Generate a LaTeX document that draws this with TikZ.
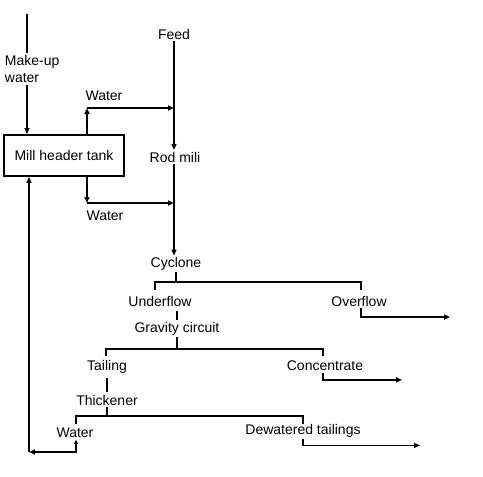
\documentclass[tikz,border=0pt]{standalone}
\usepackage{fontspec}
\setmainfont{Liberation Sans}
\usetikzlibrary{arrows.meta}
\usetikzlibrary{positioning}

\begin{document}
\begin{tikzpicture}[x=1pt,y=-1pt,line width=1.8pt,
	txt/.style={inner sep=1pt,font=\fontsize{14}{17}\selectfont},
	flow/.style={-{Triangle[length=6pt,width=5pt]}},
	brk/.style={line width=1.4pt,shorten <=3pt,shorten >=1pt}]

	\useasboundingbox (0,0) rectangle (483,477);

	%Tank
	\node[txt, draw, minimum width=120pt, minimum height=41pt] (tank) at (64,155.5) {Mill header tank};

	%Make-up water
	\node[txt, align=left, anchor=west] (makeup) at (3,69) {Make-up\\water};
	\coordinate (mtop) at (27,14);
	\draw (mtop) -- (mtop |- makeup.north);
	\draw[flow] (mtop |- makeup.south) -- (mtop |- tank.north);

	%Feed and rod mill
	\node[txt] (feed) at (174,34) {Feed};
	\node[txt] (rodmill) at (175,157) {Rod mili};
	\coordinate (feedline) at (174,0);
	\draw[flow] (feedline |- feed.south) -- (feedline |- rodmill.north);

	%Water to mill
	\node[txt] (wtop) at (104,96) {Water};
	\coordinate (wup) at (87,108);
	\draw[flow] (tank.north -| wup) -- (wup);
	\draw[flow] (wup) -- (wup -| feedline);

	\node[txt] (wbot) at (105,216) {Water};
	\coordinate (wdown) at (87,203);
	\draw[flow] (tank.south -| wdown) -- (wdown);
	\draw[flow] (wdown) -- (wdown -| feedline);

	%Cyclone
	\node[txt] (cyclone) at (176,264) {Cyclone};
	\draw[flow] (feedline |- rodmill.south) -- (feedline |- cyclone.north);

	\node[txt] (underflow) at (160,301) {Underflow};
	\node[txt] (overflow) at (359,301) {Overflow};
	\coordinate (cysplit) at (176,282);
	\coordinate (cyL) at (155,290);
	\coordinate (cyR) at (361,290);
	\draw (cyclone.south) -- (cysplit);
	\draw (cyL) -- (cyL |- cysplit) -- (cyR |- cysplit) -- (cyR);
	\draw[flow] (cyR |- overflow.south) -- ++(0,9) -- ++(89,0);

	%Gravity circuit
	\node[txt] (gravity) at (177,329) {Gravity circuit};
	\draw[brk] (gravity |- underflow.south) -- (gravity.north);

	\node[txt] (tailing) at (107,367) {Tailing};
	\node[txt] (concentrate) at (325,366) {Concentrate};
	\coordinate (gvsplit) at (177,349);
	\coordinate (gvL) at (106,356);
	\coordinate (gvR) at (323,356);
	\draw (gravity.south) -- (gvsplit);
	\draw (gvL) -- (gvL |- gvsplit) -- (gvR |- gvsplit) -- (gvR);
	\draw[flow] (gvR |- concentrate.south) -- ++(0,7) -- ++(79,0);

	%Thickener
	\node[txt] (thickener) at (107,400) {Thickener};
	\draw[brk] (thickener |- tailing.south) -- (thickener.north);

	\node[txt] (wret) at (75,433) {Water};
	\node[txt] (dewatered) at (303,431) {Dewatered tailings};
	\coordinate (thsplit) at (107,416);
	\coordinate (thL) at (76,424);
	\coordinate (thR) at (303,424);
	\draw (thickener.south) -- (thsplit);
	\draw (thL) -- (thL |- thsplit) -- (thR |- thsplit) -- (thR);
	\draw[flow] (thR |- dewatered.south) -- ++(0,6) -- ++(117,0);

	%Water return
	\coordinate (ret) at (29,452);
	\draw[{Triangle[length=4pt,width=4pt]}-{Triangle[length=6pt,width=5pt]}] (thL |- wret.south) |- (ret);
	\draw[flow] (ret) -- (ret |- tank.south);

\end{tikzpicture}
\end{document}
